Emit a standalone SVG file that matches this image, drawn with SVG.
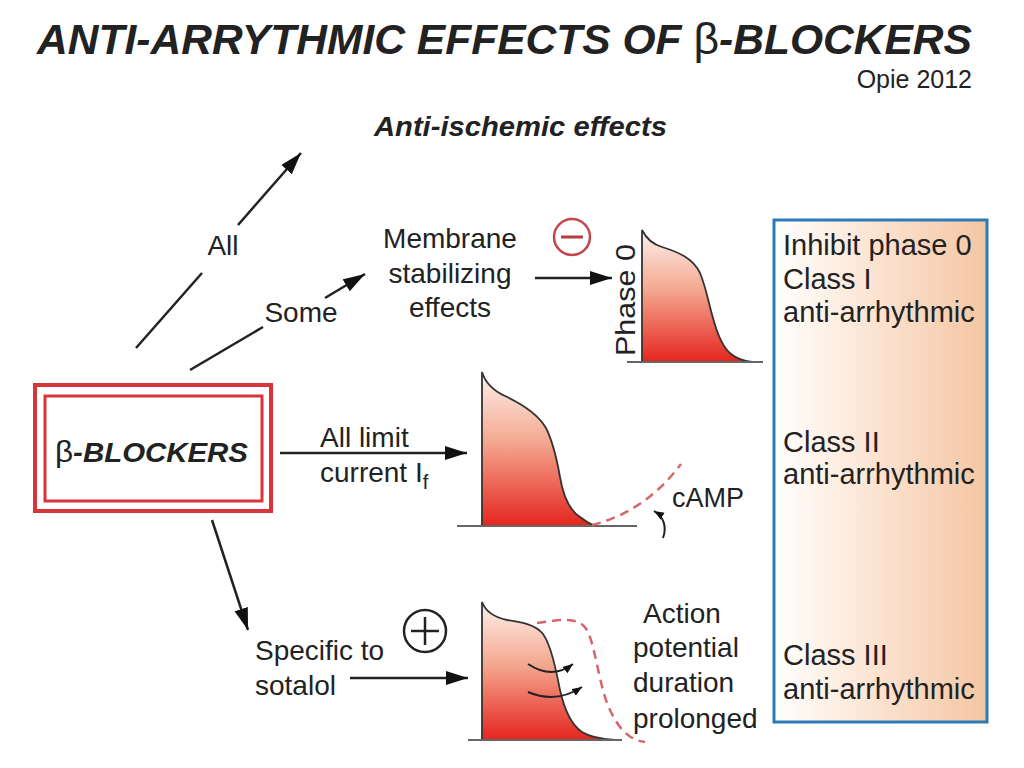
<svg xmlns="http://www.w3.org/2000/svg" width="1024" height="768" viewBox="0 0 1024 768">
<defs>
<style>
.t{font-family:"Liberation Sans",Arial,sans-serif;font-size:28px;fill:#222}
.bi{font-weight:bold;font-style:italic}
.bx{font-size:29px}
.ln{stroke:#222;stroke-width:2.5;fill:none}
.ap{stroke:#333;stroke-width:1.8;fill:none}
.base{stroke:#666;stroke-width:2;fill:none}
.dash{stroke:#d4676c;stroke-width:2.5;fill:none;stroke-dasharray:9 6}
</style>
<linearGradient id="apg" x1="0" y1="0" x2="0" y2="1">
<stop offset="0" stop-color="#fdf1ec"/>
<stop offset="0.45" stop-color="#f4a890"/>
<stop offset="1" stop-color="#e5251f"/>
</linearGradient>
<linearGradient id="boxg" x1="0" y1="0" x2="1" y2="0">
<stop offset="0" stop-color="#ffffff"/>
<stop offset="0.5" stop-color="#fbe2cf"/>
<stop offset="1" stop-color="#f4c6a2"/>
</linearGradient>
<marker id="ah" markerUnits="userSpaceOnUse" markerWidth="24" markerHeight="16" refX="22" refY="7" orient="auto">
<path d="M0,0 L22,7 L0,14 Z" fill="#111"/>
</marker>
<marker id="ahs" markerUnits="userSpaceOnUse" markerWidth="12" markerHeight="10" refX="10" refY="4" orient="auto">
<path d="M0,0 L10,4 L0,8 Z" fill="#111"/>
</marker>
</defs>
<rect width="1024" height="768" fill="#ffffff"/>

<g id="title">
<text class="t bi" x="37" y="54" style="font-size:42px" textLength="935" lengthAdjust="spacingAndGlyphs" fill="#111">ANTI-ARRYTHMIC EFFECTS OF <tspan style="font-weight:normal;font-style:normal;font-size:44px">β</tspan>-BLOCKERS</text>
<text class="t" x="972" y="88" style="font-size:25px" text-anchor="end">Opie 2012</text>
</g>

<g id="anti-ischemic">
<text class="t bi" x="374" y="136" textLength="293" lengthAdjust="spacingAndGlyphs">Anti-ischemic effects</text>
</g>

<g id="beta-blockers">
<rect x="35" y="385" width="236" height="126" fill="none" stroke="#d8353a" stroke-width="4"/>
<rect x="45" y="396" width="217" height="105" fill="#fff" stroke="#d8353a" stroke-width="3"/>
<text class="t" x="55" y="462" textLength="193" lengthAdjust="spacingAndGlyphs"><tspan style="font-size:30px">β</tspan><tspan class="bi">-BLOCKERS</tspan></text>
</g>

<g id="connectors">
<path class="ln" d="M136,348 L202,273"/>
<path class="ln" d="M238,225 L301,153" marker-end="url(#ah)"/>
<path class="ln" d="M190,370 L263,327"/>
<path class="ln" d="M325,298 L365,274" marker-end="url(#ah)"/>
<path class="ln" d="M535,278 L612,278" marker-end="url(#ah)"/>
<path class="ln" d="M280,453 L467,453" marker-end="url(#ah)"/>
<path class="ln" d="M212,520 L248,630" marker-end="url(#ah)"/>
<path class="ln" d="M350,678 L468,678" marker-end="url(#ah)"/>
</g>

<g id="labels">
<text class="t" x="223" y="255" text-anchor="middle">All</text>
<text class="t" x="301" y="322" text-anchor="middle">Some</text>
<text class="t" x="320" y="447">All limit</text>
<text class="t" x="320" y="482">current I<tspan style="font-size:20px" dy="7">f</tspan></text>
<text class="t" x="255" y="660">Specific to</text>
<text class="t" x="255" y="695">sotalol</text>
</g>

<g id="membrane">
<text class="t" x="450" y="248" text-anchor="middle">Membrane</text>
<text class="t" x="450" y="283" text-anchor="middle">stabilizing</text>
<text class="t" x="450" y="317" text-anchor="middle">effects</text>
</g>

<g id="minus-sign">
<circle cx="572" cy="237" r="18" fill="#fff" stroke="#c5464a" stroke-width="2.5"/>
<line x1="561" y1="237" x2="583" y2="237" stroke="#b8393d" stroke-width="3"/>
</g>

<g id="plus-sign">
<circle cx="425" cy="631" r="21" fill="#fff" stroke="#222" stroke-width="2.5"/>
<line x1="411" y1="631" x2="439" y2="631" stroke="#222" stroke-width="2.5"/>
<line x1="425" y1="617" x2="425" y2="645" stroke="#222" stroke-width="2.5"/>
</g>

<g id="ap-phase0">
<path d="M642,362 L642,230 C646,238 652,244 662,247 C678,252 693,258 700,273 C706,287 709,305 713,318 C717,333 722,347 731,354 C737,359 744,361 752,362 Z" fill="url(#apg)"/>
<path class="ap" d="M642,362 L642,230 C646,238 652,244 662,247 C678,252 693,258 700,273 C706,287 709,305 713,318 C717,333 722,347 731,354 C737,359 744,361 752,362"/>
<line class="base" x1="627" y1="362" x2="763" y2="362"/>
<text class="t" transform="translate(635,300) rotate(-90)" text-anchor="middle" textLength="112" lengthAdjust="spacingAndGlyphs">Phase 0</text>
</g>

<g id="ap-if">
<path d="M482,526 L482,372 C485,382 492,390 505,396 C522,404 538,414 546,428 C553,442 557,460 560,477 C563,495 569,510 580,517 C585,521 590,524 595,526 Z" fill="url(#apg)"/>
<path class="ap" d="M482,526 L482,372 C485,382 492,390 505,396 C522,404 538,414 546,428 C553,442 557,460 560,477 C563,495 569,510 580,517 C585,521 590,524 595,526"/>
<line class="base" x1="457" y1="526" x2="637" y2="526"/>
<path class="dash" d="M592,525 Q645,512 681,464"/>
<path class="ln" style="stroke-width:2" d="M663,538 C667,527 664,517 654,511" marker-end="url(#ahs)"/>
<text class="t" x="672" y="507" style="font-size:27px">cAMP</text>
</g>

<g id="ap-sotalol">
<path d="M482,740 L482,602 C485,610 493,617 507,620 C522,622 536,625 543,634 C551,645 556,670 560,690 C564,708 570,724 582,732 C590,737 600,739 615,740 Z" fill="url(#apg)"/>
<path class="dash" d="M537,623 C560,620 580,615 588,632 C596,650 600,690 610,710 C618,727 628,740 645,742"/>
<path class="ap" d="M482,740 L482,602 C485,610 493,617 507,620 C522,622 536,625 543,634 C551,645 556,670 560,690 C564,708 570,724 582,732 C590,737 600,739 615,740"/>
<line class="base" x1="468" y1="740" x2="622" y2="740"/>
<path class="ln" style="stroke-width:2" d="M528,664 Q552,680 573,664" marker-end="url(#ahs)"/>
<path class="ln" style="stroke-width:2" d="M528,692 Q556,704 582,687" marker-end="url(#ahs)"/>
<text class="t" x="643" y="623">Action</text>
<text class="t" x="633" y="657">potential</text>
<text class="t" x="633" y="692">duration</text>
<text class="t" x="633" y="728">prolonged</text>
</g>

<g id="classes-box">
<rect x="774" y="220" width="213" height="502" fill="url(#boxg)" stroke="#2c7bb8" stroke-width="3"/>
<text class="t bx" x="783" y="255">Inhibit phase 0</text>
<text class="t bx" x="783" y="289">Class I</text>
<text class="t bx" x="783" y="322">anti-arrhythmic</text>
<text class="t bx" x="783" y="452">Class II</text>
<text class="t bx" x="783" y="484">anti-arrhythmic</text>
<text class="t bx" x="783" y="665">Class III</text>
<text class="t bx" x="783" y="699">anti-arrhythmic</text>
</g>
</svg>
